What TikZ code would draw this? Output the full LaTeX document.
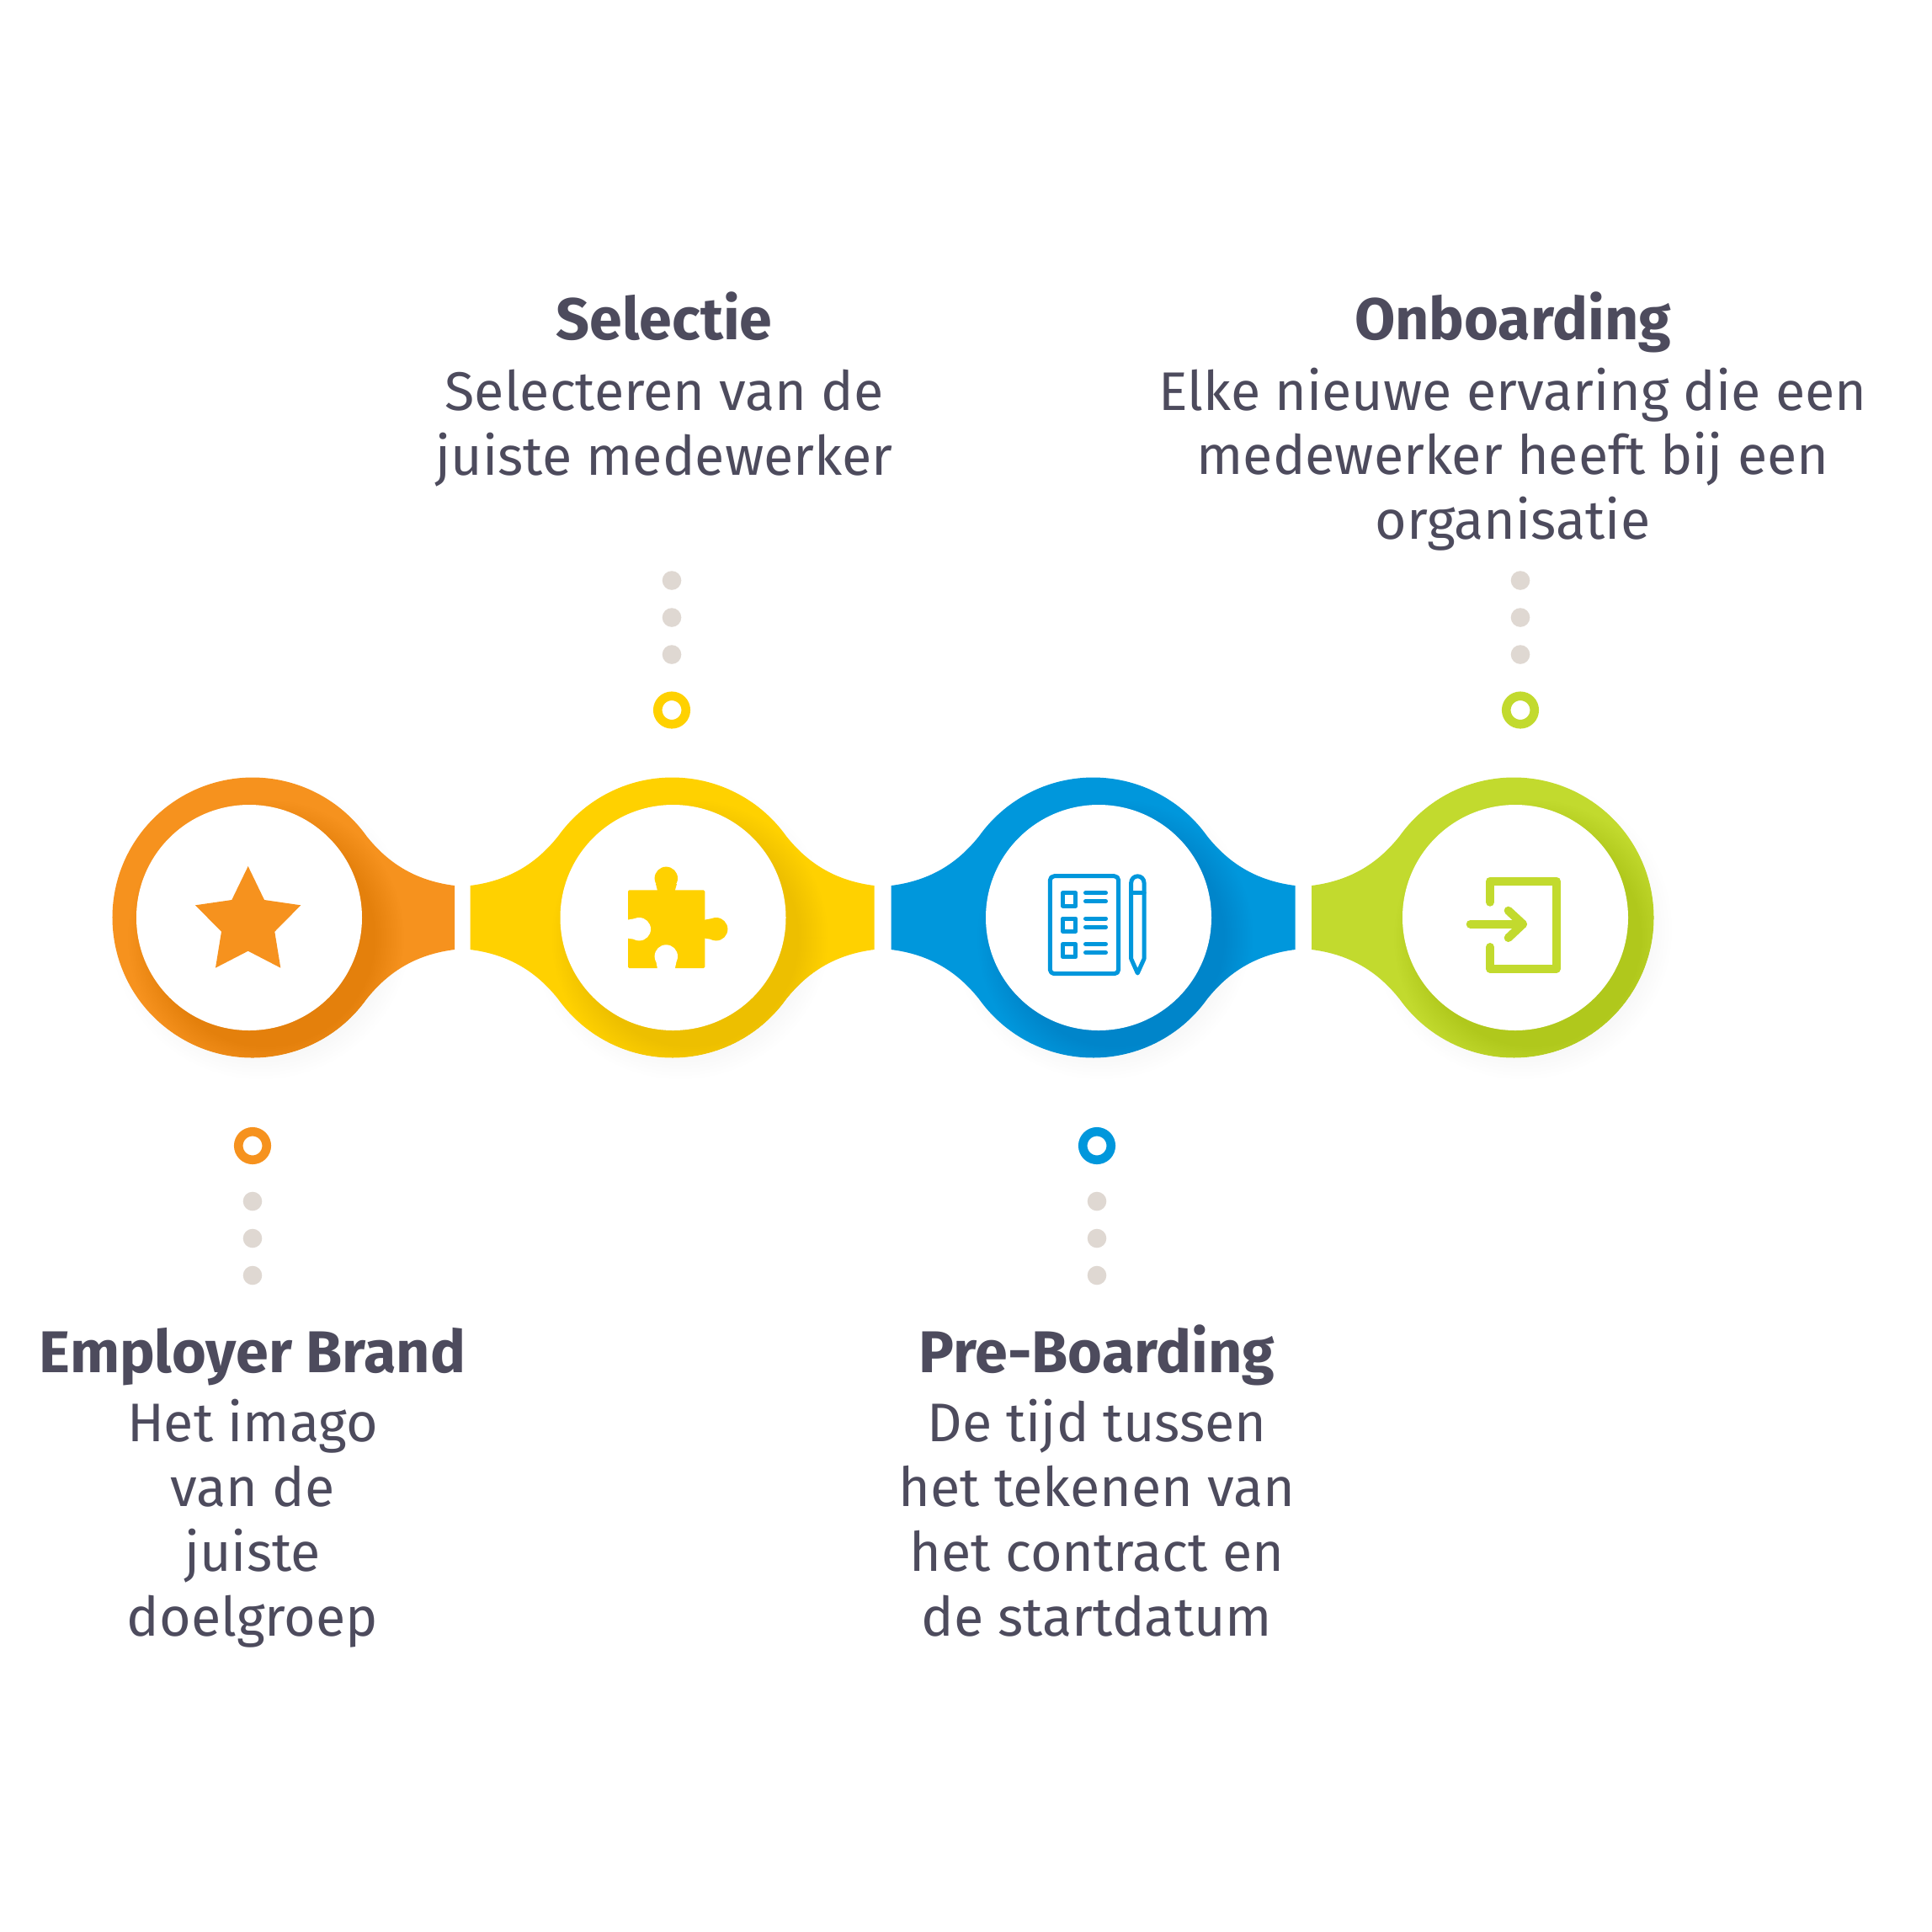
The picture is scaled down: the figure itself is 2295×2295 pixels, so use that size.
\documentclass[tikz,border=0pt]{standalone}
\usepackage{xcolor}
\usepackage{fontspec}
\setmainfont{Fira Sans}
\usetikzlibrary{positioning}
\definecolor{brandorange}{HTML}{F6921E}
\definecolor{selectyellow}{HTML}{FFD100}
\definecolor{preblue}{HTML}{0097DC}
\definecolor{onboardgreen}{HTML}{C2DA2E}
\definecolor{softdot}{HTML}{DFD8D2}
\definecolor{inktext}{HTML}{4D4B5D}
\tikzset{
  rightarm/.style={insert path={(-35.5:166.5) .. controls (160,-66) and (192,-44) .. (240,-38) -- (240,38) .. controls (192,44) and (160,66) .. (35.5:166.5)}},
  leftarm/.style={insert path={.. controls (-160,66) and (-192,44) .. (-240,38) -- (-240,-38) .. controls (-192,-44) and (-160,-66) .. (215.5:166.5)}},
  bothoutline/.style={rightarm, insert path={arc[start angle=35.5, end angle=144.5, radius=166.5]}, leftarm, insert path={arc[start angle=215.5, end angle=324.5, radius=166.5] -- cycle}},
  rightoutline/.style={rightarm, insert path={arc[start angle=35.5, end angle=324.5, radius=166.5] -- cycle}},
  leftoutline/.style={insert path={(215.5:166.5) arc[start angle=215.5, end angle=504.5, radius=166.5]}, leftarm, insert path={-- cycle}},
  hole/.style={circle, fill=white, minimum size=268pt, inner sep=0pt, outer sep=0pt},
  marker/.style={circle, draw=#1, fill=white, line width=10.6pt, minimum size=33.5pt, inner sep=0pt, outer sep=0pt},
  softspot/.style={circle, fill=softdot, minimum size=22.6pt, inner sep=0pt, outer sep=0pt},
  title/.style={anchor=base, inner sep=0pt, text=inktext, font=\fontsize{70}{76.7}\selectfont\bfseries},
  bodytext/.style={anchor=base, align=center, inner sep=0pt, text=inktext, font=\fontsize{64.6}{76.7}\selectfont},
  iconline/.style={line width=5pt, line cap=round, line join=round}
}

\begin{document}
\begin{tikzpicture}[x=1pt, y=-1pt, on grid]
  \useasboundingbox (0,0) rectangle (2295,2295);

  % the four hubs, each with a soft shadow under and on its ring
  \foreach \hubx/\holex/\hubcol/\outline/\hubname in {
    300/296/brandorange/rightoutline/brandhub,
    798.5/799.5/selectyellow/bothoutline/selecthub,
    1298.5/1305/preblue/bothoutline/prehub,
    1798/1800/onboardgreen/leftoutline/onboardhub} {
    \foreach \r in {150,154,...,178}
      \fill[black, opacity=.005] (\hubx+10,1104) circle (\r pt);
    \begin{scope}[shift={(\hubx,1090)}]
      \fill[\hubcol, \outline];
      \begin{scope}
        \clip[\outline];
        \foreach \r in {130,132,...,164}
          \fill[black, opacity=.005] (\holex-\hubx+20,24) circle (\r pt);
      \end{scope}
    \end{scope}
    \node[hole] (\hubname) at (\holex,1090) {};
  }

  % markers and dots
  \node[marker=brandorange] (brandmark) at (300,1361) {};
  \node[softspot, below=66pt of brandmark] (branddot1) {};
  \node[softspot, below=44pt of branddot1] (branddot2) {};
  \node[softspot, below=44pt of branddot2] (branddot3) {};

  \node[marker=selectyellow] (selectmark) at (798,843.5) {};
  \node[softspot, above=66pt of selectmark] (selectdot1) {};
  \node[softspot, above=44pt of selectdot1] (selectdot2) {};
  \node[softspot, above=44pt of selectdot2] (selectdot3) {};

  \node[marker=preblue] (premark) at (1303,1361) {};
  \node[softspot, below=66pt of premark] (predot1) {};
  \node[softspot, below=44pt of predot1] (predot2) {};
  \node[softspot, below=44pt of predot2] (predot3) {};

  \node[marker=onboardgreen] (onboardmark) at (1806,843.5) {};
  \node[softspot, above=66pt of onboardmark] (onboarddot1) {};
  \node[softspot, above=44pt of onboarddot1] (onboarddot2) {};
  \node[softspot, above=44pt of onboarddot2] (onboarddot3) {};

  % labels
  \node[title] (selecttitle) at (789,403.4) {Selectie};
  \node[bodytext] (selectbody) at (789,564.5) {Selecteren van de\\juiste medewerker};
  \node[title] (onboardtitle) at (1797,403.4) {Onboarding};
  \node[bodytext] (onboardbody) at (1797,640.5) {Elke nieuwe ervaring die een\\medewerker heeft bij een\\organisatie};
  \node[title] (brandtitle) at (300,1630) {Employer Brand};
  \node[bodytext] (brandbody) at (300,1943) {Het imago\\van de\\juiste\\doelgroep};
  \node[title] (pretitle) at (1303,1630) {Pre-Boarding};
  \node[bodytext] (prebody) at (1303,1943) {De tijd tussen\\het tekenen van\\het contract en\\de startdatum};

  % star
  \fill[brandorange] (294.7,1029) -- (314,1069) -- (357.3,1075.3) -- (326.3,1106.7) -- (333.3,1149.7) -- (294.7,1129.7) -- (256,1149.7) -- (263,1106.7) -- (232,1075.3) -- (275.3,1069) -- cycle;

  % puzzle piece
  \fill[selectyellow, rounded corners=1.5pt] (746,1057.3) rectangle (837.3,1150);
  \fill[selectyellow] (791.3,1043.3) circle (13.7pt) (850.7,1103.7) circle (13.7pt);
  \fill[selectyellow] (779,1050) -- (804,1050) -- (801.7,1058) -- (781,1058) -- cycle;
  \fill[selectyellow] (837,1092.7) -- (846,1091) -- (846,1116) -- (837,1114.5) -- cycle;
  \fill[white] (759.3,1103.7) circle (13.7pt) (791.3,1136) circle (13.7pt);
  \fill[white] (745,1092.7) -- (755,1091) -- (755,1116) -- (745,1114.5) -- cycle;
  \fill[white] (779,1140) -- (804,1140) -- (801.7,1151) -- (781,1151) -- cycle;

  % checklist and pencil
  \begin{scope}[preblue, iconline]
    \draw[rounded corners=5pt] (1247.3,1040.7) rectangle (1328.7,1156.7);
    \foreach \rowy in {1060.8,1091.1,1121.5} {
      \draw (1262.5,\rowy) rectangle (1277.8,\rowy+15.3);
      \draw (1289.5,\rowy) -- (1313.5,\rowy);
      \draw (1289.5,\rowy+10) -- (1313.5,\rowy+10);
    }
    \draw (1343.7,1139) -- (1343.7,1048.5) arc[start angle=180, end angle=360, radius=7.65] -- (1359,1139) -- (1351.3,1156) -- cycle;
    \draw (1343.7,1060.7) -- (1359,1060.7);
  \end{scope}

  % door and arrow
  \begin{scope}[onboardgreen, iconline, line width=10pt]
    \draw (1770,1071.7) -- (1770,1046.7) -- (1849,1046.7) -- (1849,1150.7) -- (1770,1150.7) -- (1770,1125);
    \draw (1746.7,1097.7) -- (1809,1097.7);
    \draw (1791.7,1081.7) -- (1809,1097.7) -- (1791.7,1114);
  \end{scope}
\end{tikzpicture}
\end{document}
